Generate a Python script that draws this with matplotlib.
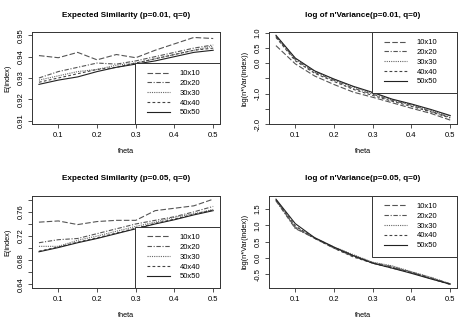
import numpy as np
import matplotlib
matplotlib.use("Agg")
import matplotlib.pyplot as plt
from matplotlib.patches import Rectangle

plt.rcParams['font.family'] = ['Liberation Sans', 'DejaVu Sans']

# -----------------------------
# data
# -----------------------------
theta = [0.05, 0.10, 0.15, 0.20, 0.25, 0.30, 0.35, 0.40, 0.45, 0.50]
sizes = ["10x10", "20x20", "30x30", "40x40", "50x50"]

# Expected similarity, p=0.01
es_p01 = {
    "10x10": [0.9405, 0.9395, 0.9420, 0.9385, 0.9410, 0.9395, 0.9430, 0.9460, 0.9490, 0.9485],
    "20x20": [0.9300, 0.9330, 0.9350, 0.9370, 0.9365, 0.9380, 0.9400, 0.9420, 0.9440, 0.9455],
    "30x30": [0.9290, 0.9310, 0.9330, 0.9340, 0.9360, 0.9370, 0.9390, 0.9410, 0.9430, 0.9450],
    "40x40": [0.9280, 0.9300, 0.9320, 0.9340, 0.9350, 0.9370, 0.9390, 0.9410, 0.9430, 0.9440],
    "50x50": [0.9270, 0.9290, 0.9305, 0.9330, 0.9350, 0.9365, 0.9380, 0.9400, 0.9420, 0.9430],
}

# log of n*Variance, p=0.01
lv_p01 = {
    "10x10": [0.58, -0.02, -0.42, -0.70, -0.95, -1.12, -1.30, -1.48, -1.65, -1.87],
    "20x20": [0.88, 0.12, -0.30, -0.56, -0.82, -1.02, -1.22, -1.38, -1.58, -1.78],
    "30x30": [0.90, 0.15, -0.27, -0.53, -0.78, -0.98, -1.20, -1.36, -1.55, -1.74],
    "40x40": [0.85, 0.08, -0.33, -0.60, -0.86, -1.06, -1.25, -1.42, -1.60, -1.80],
    "50x50": [0.92, 0.17, -0.25, -0.52, -0.76, -0.96, -1.18, -1.34, -1.52, -1.72],
}

# Expected similarity, p=0.05
es_p05 = {
    "10x10": [0.743, 0.745, 0.739, 0.744, 0.746, 0.746, 0.762, 0.766, 0.770, 0.781],
    "20x20": [0.709, 0.714, 0.716, 0.724, 0.732, 0.740, 0.746, 0.752, 0.760, 0.769],
    "30x30": [0.703, 0.703, 0.713, 0.720, 0.728, 0.736, 0.743, 0.751, 0.757, 0.764],
    "40x40": [0.695, 0.702, 0.710, 0.717, 0.725, 0.733, 0.741, 0.748, 0.756, 0.763],
    "50x50": [0.694, 0.701, 0.709, 0.716, 0.724, 0.732, 0.740, 0.747, 0.755, 0.762],
}

# log of n*Variance, p=0.05
lv_p05 = {
    "10x10": [1.78, 0.92, 0.60, 0.30, 0.05, -0.15, -0.28, -0.45, -0.62, -0.80],
    "20x20": [1.75, 0.90, 0.61, 0.33, 0.08, -0.14, -0.26, -0.43, -0.60, -0.79],
    "30x30": [1.76, 0.95, 0.62, 0.34, 0.10, -0.13, -0.24, -0.42, -0.59, -0.79],
    "40x40": [1.77, 0.98, 0.60, 0.30, 0.03, -0.16, -0.31, -0.44, -0.63, -0.81],
    "50x50": [1.80, 1.05, 0.62, 0.33, 0.07, -0.16, -0.31, -0.47, -0.64, -0.80],
}

styles = {
    "10x10": dict(ls=(0, (5, 2)), color="#555555"),
    "20x20": dict(ls=(0, (4, 1.5, 1, 1.5)), color="#555555"),
    "30x30": dict(ls=(0, (1, 1)), color="#666666"),
    "40x40": dict(ls=(0, (2.5, 2)), color="#444444"),
    "50x50": dict(ls="-", color="#222222"),
}

AX_W, AX_H = 188.0, 92.0   # axes size in pixels
LEG_LEFT = 0.547           # legend box left edge, axes fraction
LEG_H = 61.0 / AX_H        # legend box height, axes fraction


def r_lim(lo, hi):
    pad = 0.04 * (hi - lo)
    return lo - pad, hi + pad


def panel(ax, data, title, ylabel, ylim, yticks, ylabels, top_legend):
    for s in sizes:
        ax.plot(theta, data[s], lw=0.8, label=s, **styles[s])
    ax.set_xlim(r_lim(0.05, 0.5))
    ax.set_ylim(r_lim(*ylim))
    ax.set_xticks([0.1, 0.2, 0.3, 0.4, 0.5])
    ax.set_xticklabels(["0.1", "0.2", "0.3", "0.4", "0.5"])
    ax.set_yticks(yticks)
    ax.set_yticklabels(ylabels, rotation=90, va="center")
    ax.tick_params(direction="out", length=3, width=0.6, labelsize=5.5,
                   pad=2.5, color="#333333")
    for sp in ax.spines.values():
        sp.set_linewidth(0.7)
        sp.set_color("#333333")
    ax.set_title(title, fontsize=5.9, fontweight="bold", pad=11)
    ax.set_xlabel("theta", fontsize=5.3, labelpad=7)
    ax.set_ylabel(ylabel, fontsize=5.3, labelpad=4)

    # R-style legend box: flush with the axes corner
    bottom = 1 - LEG_H if top_legend else 0.0
    box = Rectangle((LEG_LEFT, bottom), 1 - LEG_LEFT, LEG_H,
                    transform=ax.transAxes, facecolor="white",
                    edgecolor="#333333", lw=0.7, zorder=4, clip_on=False)
    ax.add_patch(box)
    leg = ax.legend(loc="upper left",
                    bbox_to_anchor=(LEG_LEFT + 12 / AX_W,
                                    bottom + LEG_H - 7 / AX_H),
                    fontsize=5.5, frameon=False, borderaxespad=0,
                    borderpad=0, handlelength=3.0, handletextpad=1.3,
                    labelspacing=0.32)
    leg.set_zorder(5)


fig = plt.figure(figsize=(4.74, 3.29), dpi=100)
ax1 = fig.add_axes([0.0675, 0.623, 0.397, 0.280])
ax2 = fig.add_axes([0.5675, 0.623, 0.397, 0.280])
ax3 = fig.add_axes([0.0675, 0.125, 0.397, 0.280])
ax4 = fig.add_axes([0.5675, 0.125, 0.397, 0.280])

t1 = [0.91, 0.92, 0.93, 0.94, 0.95]
panel(ax1, es_p01, "Expected Similarity (p=0.01, q=0)", "E(index)",
      (0.91, 0.95), t1, ["%.2f" % v for v in t1], False)

t2 = [-2.0, -1.5, -1.0, -0.5, 0.0, 0.5, 1.0]
panel(ax2, lv_p01, "log of n'Variance(p=0.01, q=0)", "log(n*Var(index))",
      (-1.87, 0.92), t2, ["-2.0", "", "-1.0", "", "0.0", "0.5", "1.0"],
      True)

t3 = [0.64, 0.66, 0.68, 0.70, 0.72, 0.74, 0.76, 0.78]
panel(ax3, es_p05, "Expected Similarity (p=0.05, q=0)", "E(index)",
      (0.64, 0.781), t3, ["0.64", "", "0.68", "", "0.72", "", "0.76", ""],
      False)

t4 = [-0.5, 0.0, 0.5, 1.0, 1.5]
panel(ax4, lv_p05, "log of n'Variance(p=0.05, q=0)", "log(n*Var(index))",
      (-0.81, 1.80), t4, ["-0.5", "0.0", "0.5", "1.0", "1.5"],
      True)

fig.savefig("out.png", dpi=100)
